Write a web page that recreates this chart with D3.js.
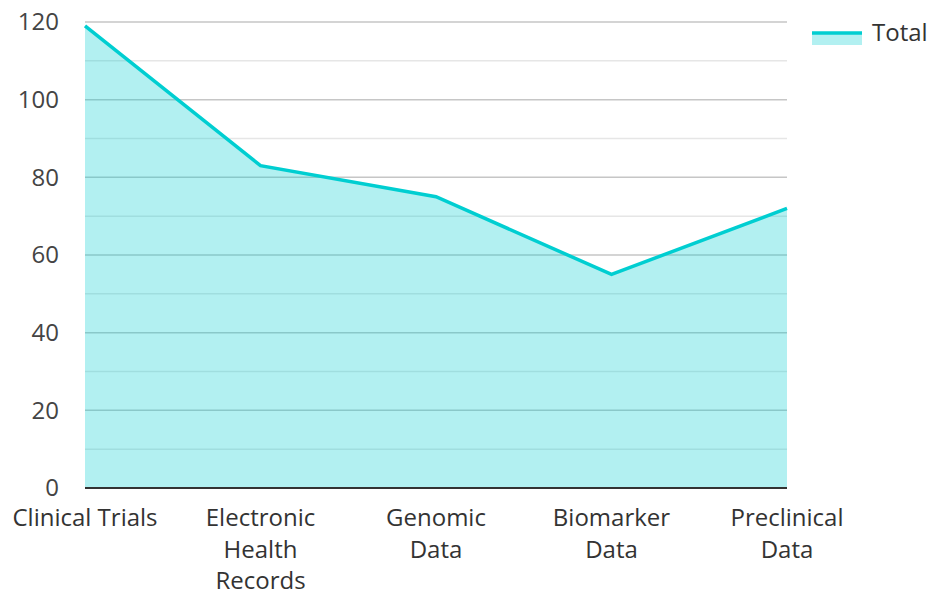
<!DOCTYPE html>
<html>
<head>
<meta charset="utf-8">
<script src="https://cdn.jsdelivr.net/npm/d3@7"></script>
<style>
  body { margin: 0; background: #fff; }
  text { font-family: "Open Sans", sans-serif; }
</style>
</head>
<body>
<svg id="chart" width="928" height="592"></svg>
<script>
const categories = ['Clinical Trials', 'Electronic Health Records', 'Genomic Data', 'Biomarker Data', 'Preclinical Data'];
const totals = [119, 83, 75, 55, 72];
const yTicks = [0, 20, 40, 60, 80, 100, 120];
const minorTicks = [10, 30, 50, 70, 90, 110];

const color = '#00CED1';
const margin = {top: 22, right: 141, bottom: 104, left: 85};
const width = 928, height = 592;

const svg = d3.select('#chart');

const x = d3.scalePoint()
    .domain(categories)
    .range([margin.left, width - margin.right])
    .padding(0);

const y = d3.scaleLinear()
    .domain([0, 120])
    .range([height - margin.bottom, margin.top]);

// grid
svg.append('g').selectAll('line').data(minorTicks).join('line')
    .attr('x1', margin.left).attr('x2', width - margin.right)
    .attr('y1', d => y(d)).attr('y2', d => y(d))
    .attr('stroke', '#e6e6e6').attr('stroke-width', 1.5);

svg.append('g').selectAll('line').data(yTicks.filter(d => d > 0)).join('line')
    .attr('x1', margin.left).attr('x2', width - margin.right)
    .attr('y1', d => y(d)).attr('y2', d => y(d))
    .attr('stroke', '#c6c6c6').attr('stroke-width', 1.5);

// area + line
const data = categories.map((c, i) => ({c, v: totals[i]}));

svg.append('path').datum(data)
    .attr('d', d3.area().x(d => x(d.c)).y0(y(0)).y1(d => y(d.v)))
    .attr('fill', color).attr('fill-opacity', 0.3);

svg.append('path').datum(data)
    .attr('d', d3.line().x(d => x(d.c)).y(d => y(d.v)))
    .attr('fill', 'none').attr('stroke', color).attr('stroke-width', 3.5)
    .attr('stroke-linejoin', 'miter');

// y labels
svg.append('g').selectAll('text').data(yTicks).join('text')
    .attr('x', 59).attr('y', d => y(d)).attr('dy', '0.35em')
    .attr('text-anchor', 'end')
    .attr('font-size', 24).attr('fill', '#444')
    .text(d => d);

// x axis line
svg.append('line')
    .attr('x1', margin.left).attr('x2', width - margin.right)
    .attr('y1', y(0)).attr('y2', y(0))
    .attr('stroke', '#333').attr('stroke-width', 2);

// x labels, wrapped
const xLabelLines = {
  'Clinical Trials': ['Clinical Trials'],
  'Electronic Health Records': ['Electronic', 'Health', 'Records'],
  'Genomic Data': ['Genomic', 'Data'],
  'Biomarker Data': ['Biomarker', 'Data'],
  'Preclinical Data': ['Preclinical', 'Data']
};

const xl = svg.append('g').selectAll('text').data(categories).join('text')
    .attr('x', d => x(d)).attr('y', 526)
    .attr('text-anchor', 'middle')
    .attr('font-size', 24).attr('fill', '#333');
xl.selectAll('tspan').data(d => xLabelLines[d].map(t => ({t, x: x(d)}))).join('tspan')
    .attr('x', d => d.x)
    .attr('dy', (d, i) => i === 0 ? 0 : 31.5)
    .text(d => d.t);

// legend
const lg = svg.append('g').attr('transform', 'translate(812,33)');
lg.append('rect').attr('x', 0).attr('y', 0).attr('width', 50).attr('height', 12)
    .attr('fill', color).attr('fill-opacity', 0.3);
lg.append('line').attr('x1', 0).attr('x2', 50).attr('y1', 0).attr('y2', 0)
    .attr('stroke', color).attr('stroke-width', 3.5);
lg.append('text').attr('x', 60).attr('y', 0).attr('dy', '0.35em')
    .attr('font-size', 24).attr('fill', '#333').text('Total');
</script>
</body>
</html>
